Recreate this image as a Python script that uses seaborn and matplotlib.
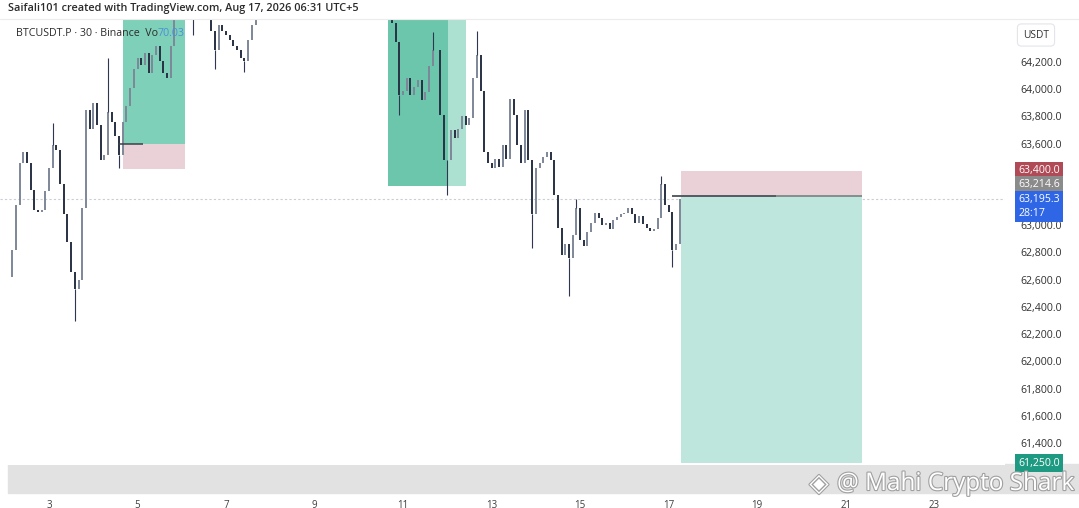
import matplotlib
matplotlib.use("Agg")
import matplotlib.pyplot as plt
import matplotlib.dates as mdates
import matplotlib.patheffects as pe
from matplotlib.patches import Rectangle
import seaborn as sns
import numpy as np
import pandas as pd

sns.set_theme(style="white")
plt.rcParams['font.family'] = ['Open Sans', 'DejaVu Sans']

start_time = "2026-08-02 02:00"
closes = [
    62620, 62820, 63150, 63460, 63540, 63460, 63260, 63110, 63100, 63110, 63250, 63420,
    63590, 63550, 63300, 63080, 62880, 62660, 62530, 62600, 63130, 63850, 63710, 63900,
    63740, 63480, 63520, 63830, 63760, 63660, 63520, 63760, 63880, 64010, 64150, 64230,
    64180, 64270, 64120, 64250, 64320, 64210, 64120, 64080, 64320, 64520, 64600, 64650,
    64700, 64680, 64620, 64700, 64750, 64700, 64600, 64430, 64290, 64470, 64430, 64400,
    64360, 64320, 64290, 64230, 64210, 64360, 64470, 64560, 64640, 64700, 64760, 64820,
    64880, 64850, 64920, 64980, 65040, 65000, 64950, 65020, 65080, 65050, 65000, 64960,
    64990, 65040, 65010, 64950, 64900, 64930, 64880, 64840, 64870, 64820, 64780, 64800,
    64760, 64720, 64740, 64690, 64650, 64680, 64620, 64580, 64490, 64350, 63960, 63990,
    64080, 63960, 64020, 64070, 63920, 63980, 64170, 64290, 64290, 63810, 63480, 63480,
    63700, 63640, 63710, 63800, 63740, 63790, 64080, 64250, 63990, 63540, 63460, 63420,
    63490, 63430, 63590, 63490, 63930, 63810, 63590, 63460, 63850, 63480, 63080, 63420,
    63460, 63500, 63540, 63480, 63220, 62980, 62780, 62860, 62760, 62930, 63130, 62890,
    62850, 62950, 63020, 63090, 63050, 63000, 63020, 62970, 63040, 63060, 63080, 63090,
    63130, 63080, 63020, 63070, 63010, 62980, 62960, 62970, 63050, 63300, 63150, 63100,
    62820, 62860, 63195.3,
]
# long wicks (candle index, wick extreme)
wick_idx = [12, 18, 27, 30, 50, 56, 64, 106, 115, 119, 127, 142, 152, 154, 177, 180]
wick_price = [63750, 62300, 64230, 63420, 64400, 64150, 64130, 63810, 64420, 63220,
              64430, 62830, 62480, 63190, 63360, 62690]

last_price = 63195.3
countdown = "28:17"
price_ticks = list(range(61400, 64201, 200))
day_ticks = list(range(3, 24, 2))

# position tools drawn on the chart
pos1_start, pos1_end = "2026-08-04 16:10", "2026-08-06 01:45"
pos1_line_start, pos1_line_end = "2026-08-04 13:25", "2026-08-05 03:00"
pos1_target, pos1_entry, pos1_stop = 64800, 63597, 63414

pos2_start, pos2_split, pos2_end = "2026-08-10 15:50", "2026-08-12 00:20", "2026-08-12 10:10"
pos2_low, pos2_high = 63289, 64800

pos3_start, pos3_end = "2026-08-17 06:45", "2026-08-21 09:00"
pos3_line_start, pos3_line_mid = "2026-08-17 01:55", "2026-08-19 10:20"
pos3_stop, pos3_entry, pos3_target = 63400.0, 63214.6, 61250.0

W, H = 1079, 508
fig = plt.figure(figsize=(W / 100, H / 100), dpi=100)
fig.patch.set_facecolor("white")
ax = fig.add_axes([0, 1 - 465 / H, 1005 / W, 445 / H])
ax.set_facecolor("white")

green = "#7fd0b8"
green_dark = "#6cc6ab"
green_light = "#ace0d1"
green_soft = "#bfe6dd"
pink = "#ead1d7"

T = pd.Timestamp
# position 1 (long)
ax.fill_between([T(pos1_start), T(pos1_end)], pos1_entry, pos1_target, color=green, lw=0, zorder=1)
ax.fill_between([T(pos1_start), T(pos1_end)], pos1_stop, pos1_entry, color=pink, lw=0, zorder=1)
ax.hlines(pos1_entry, T(pos1_line_start), T(pos1_line_end), color="#3c4048", lw=1.1, zorder=4)
# position 2
ax.fill_between([T(pos2_start), T(pos2_split)], pos2_low, pos2_high, color=green_dark, lw=0, zorder=1)
ax.fill_between([T(pos2_split), T(pos2_end)], pos2_low, pos2_high, color=green_light, lw=0, zorder=1)
# position 3 (short)
ax.fill_between([T(pos3_start), T(pos3_end)], pos3_entry, pos3_stop, color=pink, lw=0, zorder=1)
ax.fill_between([T(pos3_start), T(pos3_end)], pos3_target, pos3_entry, color=green_soft, lw=0, zorder=1)
ax.hlines(pos3_entry, T(pos3_line_start), T(pos3_line_mid), color="#4a5058", lw=1.3, zorder=4)
ax.hlines(pos3_entry, T(pos3_line_mid), T(pos3_end), color="#7d8a88", lw=1.3, zorder=4)

# current price line
ax.axhline(last_price, color="#c9cdd6", lw=0.8, ls=(0, (2, 2)), zorder=0.5)

# candles
times = mdates.date2num(pd.date_range(start_time, periods=len(closes), freq="2h"))
c = np.array(closes, dtype=float)
o = np.r_[c[0], c[:-1]]
up = c >= o
ax.vlines(times[up], o[up], c[up], color="#7d8799", lw=1.4, zorder=3)
ax.vlines(times[~up], c[~up], o[~up], color="#283044", lw=1.4, zorder=3)
for i, wp in zip(wick_idx, wick_price):
    ax.vlines(times[i], min(wp, c[i]), max(wp, c[i]), color="#2e3650", lw=0.8, zorder=3)

ax.set_xlim(T("2026-08-01 21:25"), T("2026-08-24 14:24"))
ax.set_ylim(61238, 64509)
for s in ax.spines.values():
    s.set_visible(False)
ax.grid(False)

# axes ticks
ax.yaxis.tick_right()
ax.set_yticks(price_ticks)
ax.set_yticklabels([f"{v:,.1f}" for v in price_ticks])
ax.tick_params(axis="y", length=0, pad=11, labelsize=7.6, labelcolor="#303030")
ax.set_xticks([T(f"2026-08-{d:02d}") for d in day_ticks])
ax.set_xticklabels([str(d) for d in day_ticks])
ax.tick_params(axis="x", length=0, pad=25, labelsize=7, labelcolor="#404040")

# price labels on the scale
ytr = ax.get_yaxis_transform()
lab = dict(transform=ytr, ha="left", va="center", color="white", fontsize=7.6, zorder=10, clip_on=False)
ax.text(1.013, pos3_stop, f"{pos3_stop:,.1f}",
        bbox=dict(boxstyle="square,pad=0.32", fc="#b04a57", ec="none"), **lab)
ax.annotate(f"{pos3_entry:,.1f}", xy=(1.013, pos3_entry), xycoords=ytr, xytext=(0, 8),
            textcoords="offset points", ha="left", va="center", color="white", fontsize=7.6,
            zorder=10, annotation_clip=False,
            bbox=dict(boxstyle="square,pad=0.32", fc="#8b8b8b", ec="none"))
ax.annotate(f"{last_price:,.1f}\n{countdown}", xy=(1.013, last_price), xycoords=ytr, xytext=(0, -5.5),
            textcoords="offset points", ha="left", va="center", color="white", fontsize=7.6,
            linespacing=1.3, zorder=10, annotation_clip=False,
            bbox=dict(boxstyle="square,pad=0.32", fc="#2f66e6", ec="none"))
ax.text(1.013, pos3_target, f"{pos3_target:,.1f}",
        bbox=dict(boxstyle="square,pad=0.32", fc="#1f9a82", ec="none"), **lab)

# header and legend
fig.text(8 / W, 1 - 8 / H, "Saifali101 created with TradingView.com, Aug 17, 2026 06:31 UTC+5",
         ha="left", va="center", fontsize=7.8, fontweight="semibold", color="#2b2b2b")
fig.add_artist(plt.Line2D([0, 1], [1 - 19 / H, 1 - 19 / H], color="#ececec", lw=0.8))
fig.text(16 / W, 1 - 33 / H, "BTCUSDT.P · 30 · Binance  Vo", ha="left", va="center",
         fontsize=7.7, color="#2b2b2b", zorder=10)
fig.text(158 / W, 1 - 33 / H, "70.03", ha="left", va="center", fontsize=7.7, color="#4a8fd8", zorder=10)
fig.text(1036 / W, 1 - 35 / H, "USDT", ha="center", va="center", fontsize=7.3, color="#303030",
         bbox=dict(boxstyle="round,pad=0.55,rounding_size=0.4", fc="white", ec="#e3e5ea", lw=0.8))

# bottom grey strip (behind the axes) and watermark
fig.patches.append(Rectangle((8 / W, 1 - 493 / H), (W - 8) / W, 29 / H, transform=fig.transFigure,
                             color="#e2e2e2", zorder=-1))
wm = [pe.withStroke(linewidth=1.6, foreground="#a0a0a0")]
fig.text(837 / W, 1 - 484 / H, "@ Mahi Crypto Shark", ha="left", va="center", fontsize=17.5,
         color="white", path_effects=wm, zorder=11)
fig.text(819 / W, 1 - 484 / H, "◈", ha="center", va="center", fontsize=18, color="white",
         family=["DejaVu Sans"], path_effects=wm, zorder=11)

fig.savefig("out.png", dpi=100)
